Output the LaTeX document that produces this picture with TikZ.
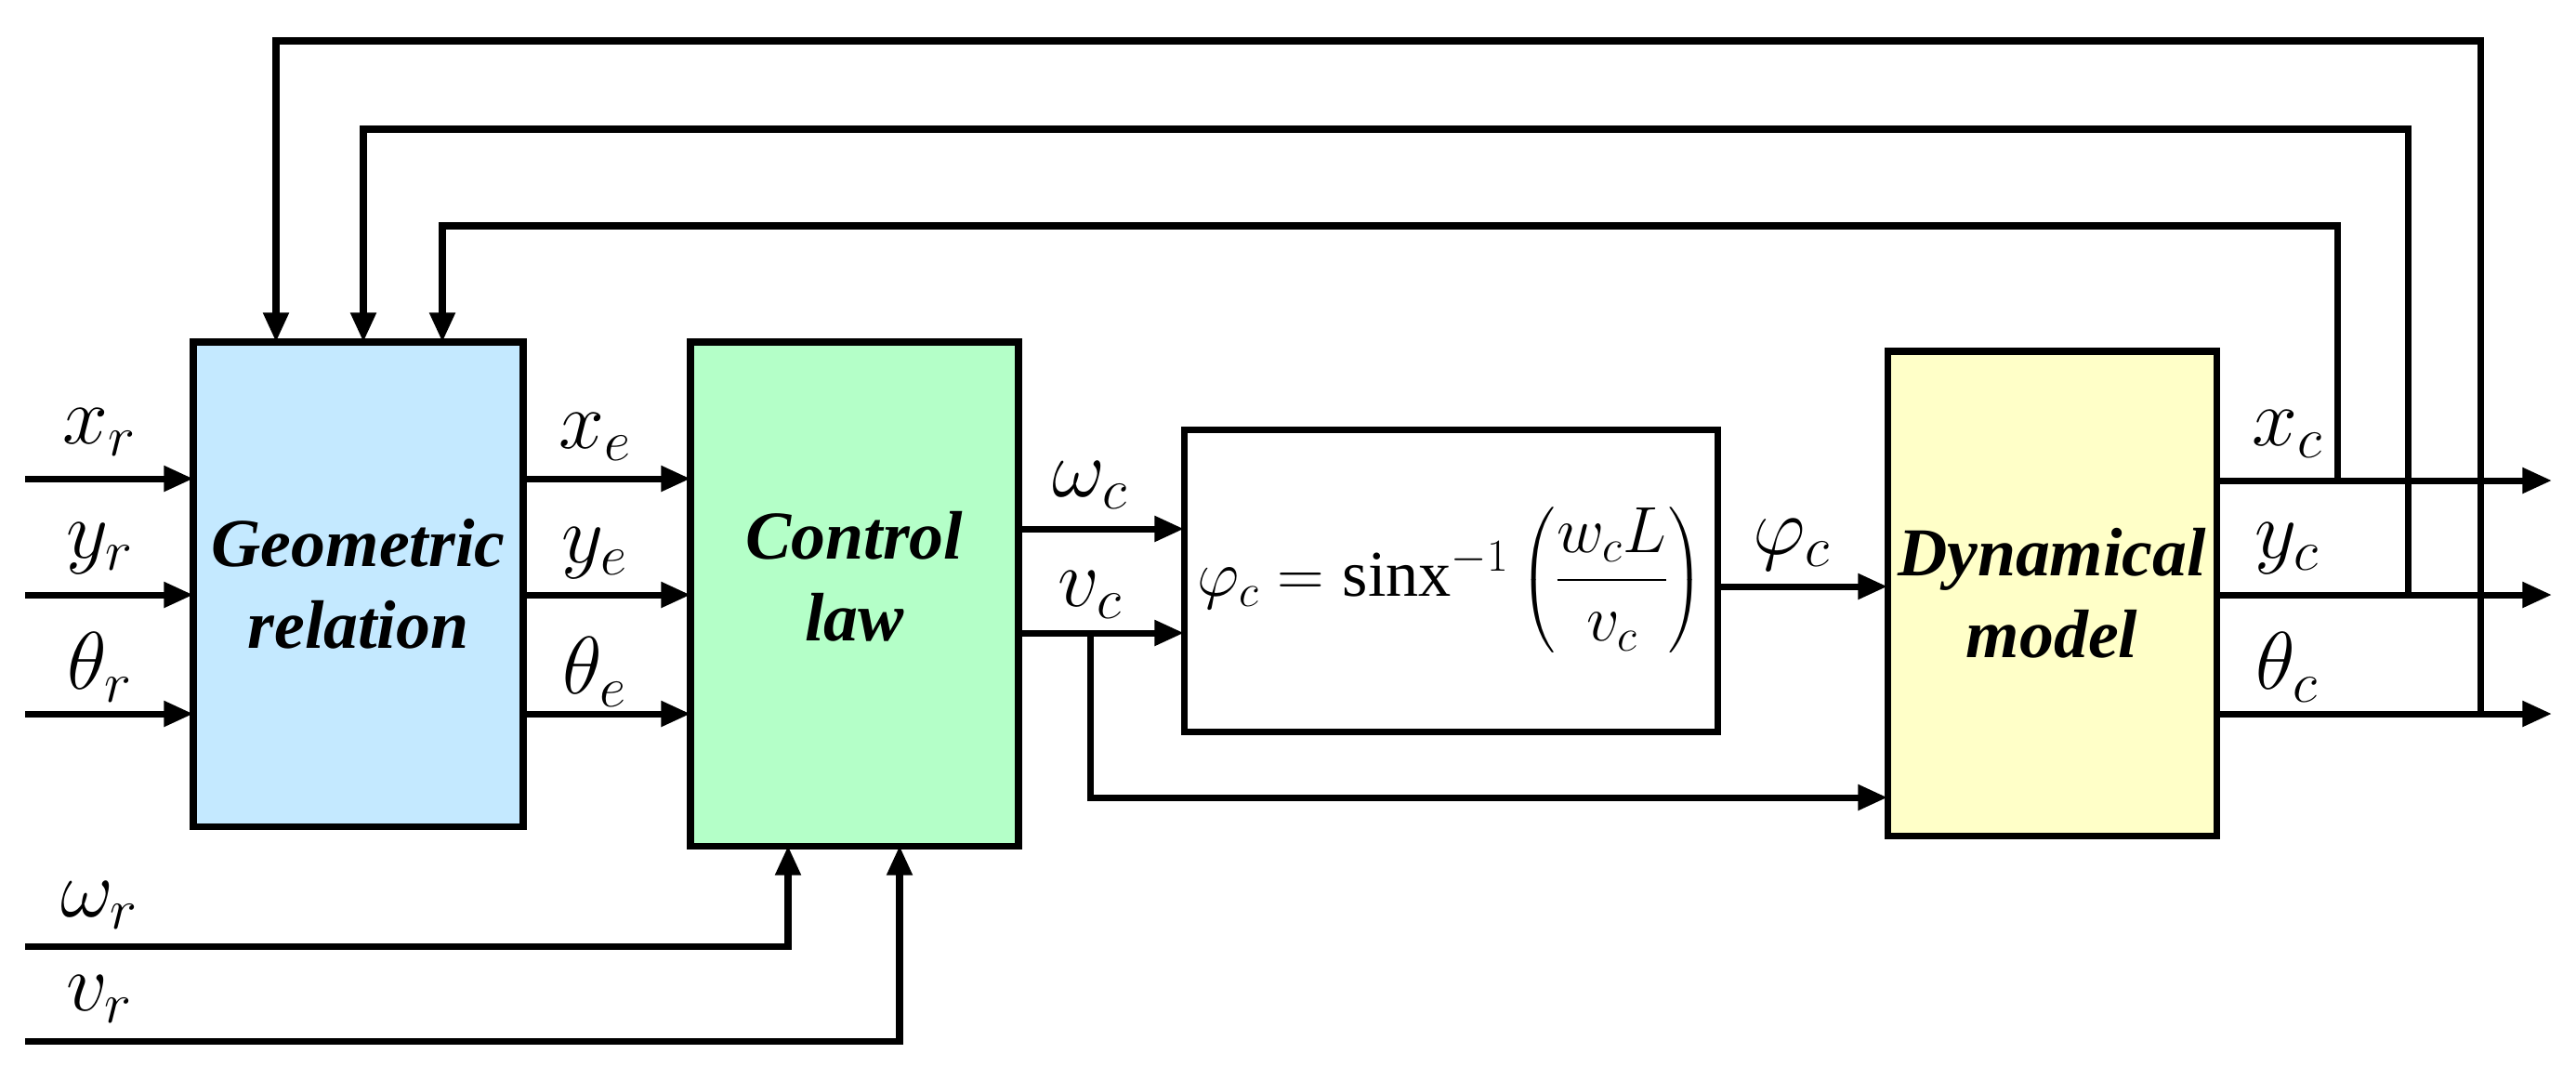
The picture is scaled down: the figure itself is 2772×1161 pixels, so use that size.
\RequirePackage{fix-cm}
\documentclass[tikz,border=0pt]{standalone}
\usepackage{amsmath}
\usepackage{fontspec}
\setmainfont{Liberation Serif}
\usetikzlibrary{arrows.meta}
\begin{document}
\begin{tikzpicture}[x=0.02cm,y=-0.02cm,
  ln/.style={line width=4pt},
  ar/.style={ln,-{Triangle[length=18pt,width=15pt]}},
  bt/.style={font=\fontsize{42}{50}\selectfont\bfseries\itshape,align=center},
  lb/.style={font=\fontsize{50}{56}\selectfont}]
\useasboundingbox (0,0) rectangle (2772,1161);
\definecolor{cb}{HTML}{C4E9FF}\definecolor{cg}{HTML}{B4FFC8}\definecolor{cy}{HTML}{FFFFC8}
\path[draw,line width=4pt,fill=cb] (208,368) rectangle (563,889);
\node[bt] (g) at (385.5,628) {Geometric\\relation};
\path[draw,line width=4pt,fill=cg] (743,368) rectangle (1096,910);
\node[bt] (c) at (919.5,620) {Control\\law};
\path[draw,line width=4pt,fill=white] (1274,462) rectangle (1848,787);
\node (f) at (1561,624) {\fontsize{40}{44}\selectfont$\varphi_c = \mathrm{sinx}^{-1}\left(\dfrac{w_cL}{v_c}\right)$};
\path[draw,line width=4pt,fill=cy] (2031,378) rectangle (2385,899);
\node[bt] (d) at (2208,638) {Dynamical\\model};
% inputs
\foreach \y/\t in {515/x_r,640/y_r,768/\theta_r}{
  \coordinate (i\y) at (27,\y);
  \draw[ar] (i\y) -- (208,\y);
  \node[lb] at (107,\y-50) {$\t$};}
\foreach \y/\t in {515/x_e,640/y_e,768/\theta_e}{
  \draw[ar] (563,\y) -- (743,\y);
  \node[lb] at (640,\y-45) {$\t$};}
\draw[ar] (1096,569) -- (1274,569); \node[lb] at (1173,522) {$\omega_c$};
\draw[ar] (1096,681) -- (1274,681); \node[lb] at (1173,640) {$v_c$};
\draw[ar] (1173,681) -- (1173,858) -- (2031,858);
\draw[ar] (1848,631) -- (2031,631); \node[lb] at (1928,586) {$\varphi_c$};
\foreach \y/\t in {517/x_c,640/y_c,768/\theta_c}{
  \coordinate (o\y) at (2746,\y);
  \draw[ar] (2385,\y) -- (o\y);
  \node[lb] at (2461,\y-50) {$\t$};}
\draw[ar] (2515,517) -- (2515,243) -- (476,243) -- (476,368);
\draw[ar] (2591,640) -- (2591,139) -- (391,139) -- (391,368);
\draw[ar] (2669,768) -- (2669,44) -- (297,44) -- (297,368);
\draw[ar] (27,1018) -- (848,1018) -- (848,910); \node[lb] at (107,974) {$\omega_r$};
\draw[ar] (27,1120) -- (968,1120) -- (968,910); \node[lb] at (107,1075) {$v_r$};
\end{tikzpicture}
\end{document}
